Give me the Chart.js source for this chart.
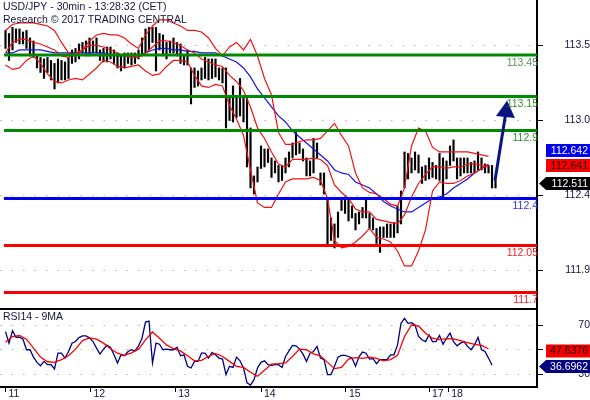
<!DOCTYPE html>
<html>
<head>
<meta charset="utf-8">
<title>USD/JPY</title>
<script src="https://cdn.jsdelivr.net/npm/chart.js"></script>
<style>
  body { margin: 0; background: #fff; }
  canvas { position: absolute; left: 0; }
  #priceChart { top: 0; }
  #rsiChart { top: 305px; }
</style>
</head>
<body>
<canvas id="priceChart" width="590" height="309"></canvas>
<canvas id="rsiChart" width="590" height="95"></canvas>
<script>
// x axis is in half hour bars, bars are read every 2nd, bands every 4th
const titleLines = ["USD/JPY - 30min - 13:28:32 (CET)", "Research © 2017 TRADING CENTRAL"];
const rsiTitle = "RSI14 - 9MA";

const dayTicks = [0, 48.5, 97, 146, 194.5, 242, 253];
const dayLabels = ["11", "12", "13", "14", "15", "17", "18"];

const priceTicks = [113.5, 113, 112.5, 112];
const priceTickLabels = ["113.5", "113.0", "112.4", "111.9"];
const rsiTicks = [70, 50, 30];
const rsiTickLabels = ["70", "", "30"];

const highs = [113.6,113.58,113.62,113.61,113.61,113.59,113.6,113.55,113.53,113.43,113.42,113.41,113.42,113.4,113.38,113.41,113.4,113.39,113.42,113.47,
  113.48,113.51,113.52,113.53,113.55,113.53,113.55,113.47,113.48,113.49,113.49,113.47,113.45,113.43,113.45,113.45,113.45,113.45,113.47,113.55,
  113.61,113.62,113.62,113.62,113.58,113.57,113.52,113.53,113.55,113.52,113.51,113.43,113.47,113.35,113.35,113.33,113.35,113.42,113.41,113.41,
  113.41,113.35,113.35,113.35,113.15,113.23,113.15,113.28,113.15,113.15,112.95,112.63,112.69,112.83,112.81,112.81,112.75,112.73,112.7,112.7,
  112.75,112.79,112.85,112.92,112.85,112.81,112.75,112.73,112.88,112.85,112.65,112.65,112.48,112.35,112.31,112.39,112.48,112.49,112.48,112.43,
  112.38,112.39,112.42,112.48,112.38,112.35,112.28,112.29,112.29,112.31,112.31,112.32,112.43,112.53,112.79,112.78,112.75,112.79,112.77,112.69,
  112.7,112.75,112.72,112.7,112.78,112.75,112.73,112.83,112.87,112.75,112.75,112.75,112.75,112.72,112.73,112.79,112.75,112.71,112.7,112.7,112.6];
const lows = [113.48,113.4,113.47,113.52,113.51,113.51,113.48,113.43,113.42,113.35,113.32,113.28,113.32,113.27,113.21,113.25,113.27,113.27,113.28,113.38,
  113.39,113.41,113.45,113.43,113.43,113.45,113.45,113.4,113.39,113.39,113.41,113.38,113.35,113.33,113.35,113.38,113.37,113.38,113.41,113.43,
  113.45,113.47,113.52,113.33,113.47,113.43,113.41,113.45,113.45,113.43,113.38,113.37,113.37,113.11,113.22,113.23,113.27,113.28,113.27,113.28,
  113.29,113.27,113.25,112.95,113,112.99,113.02,113.03,112.99,112.69,112.55,112.51,112.59,112.68,112.69,112.72,112.62,112.65,112.59,112.6,
  112.65,112.69,112.75,112.77,112.78,112.73,112.63,112.63,112.65,112.75,112.57,112.51,112.17,112.2,112.15,112.22,112.4,112.38,112.33,112.35,
  112.27,112.31,112.35,112.35,112.28,112.27,112.18,112.12,112.22,112.22,112.22,112.22,112.25,112.31,112.55,112.61,112.65,112.67,112.65,112.58,
  112.6,112.61,112.62,112.61,112.6,112.48,112.61,112.7,112.73,112.61,112.63,112.65,112.65,112.65,112.65,112.67,112.67,112.65,112.65,112.55,112.55];

const upperBand = [113.6,113.64,113.65,113.65,113.65,113.64,113.63,113.6,113.52,113.45,113.43,113.47,113.53,113.57,113.58,113.57,113.57,113.55,113.51,113.48,
  113.57,113.63,113.67,113.67,113.65,113.63,113.6,113.6,113.59,113.55,113.48,113.43,113.49,113.52,113.47,113.54,113.43,113.28,113.17,112.92,
  112.84,112.84,112.86,112.87,112.87,112.88,112.93,112.98,112.9,112.83,112.65,112.55,112.52,112.51,112.48,112.44,112.43,112.55,112.83,112.95,
  112.93,112.82,112.79,112.79,112.79,112.79,112.79,112.78,112.77,112.76];
const midBand = [113.45,113.52,113.54,113.54,113.52,113.51,113.49,113.47,113.43,113.42,113.45,113.47,113.5,113.5,113.49,113.47,113.45,113.43,113.42,113.42,
  113.45,113.49,113.53,113.53,113.52,113.5,113.47,113.45,113.41,113.39,113.37,113.36,113.3,113.26,113.2,113.09,112.95,112.88,112.79,112.71,
  112.69,112.74,112.74,112.74,112.75,112.74,112.7,112.57,112.52,112.48,112.41,112.39,112.39,112.34,112.33,112.32,112.31,112.37,112.49,112.58,
  112.64,112.69,112.69,112.68,112.69,112.69,112.71,112.71,112.7,112.69];
const lowerBand = [113.37,113.34,113.35,113.4,113.43,113.38,113.31,113.26,113.25,113.27,113.28,113.27,113.31,113.35,113.4,113.39,113.36,113.35,113.36,113.37,
  113.33,113.3,113.31,113.36,113.4,113.4,113.39,113.3,113.23,113.22,113.24,113.23,113.1,113.01,112.9,112.67,112.45,112.42,112.42,112.51,
  112.59,112.61,112.61,112.61,112.62,112.6,112.48,112.2,112.15,112.16,112.19,112.23,112.28,112.22,112.21,112.19,112.13,112.03,112.03,112.13,
  112.27,112.53,112.59,112.58,112.58,112.6,112.63,112.65,112.68,112.71];
const slowAverage = [113.45,113.45,113.47,113.47,113.47,113.47,113.46,113.45,113.45,113.45,113.45,113.45,113.45,113.45,113.45,113.44,113.43,113.43,113.43,113.43,
  113.45,113.47,113.48,113.48,113.47,113.47,113.46,113.46,113.45,113.45,113.45,113.43,113.41,113.39,113.35,113.29,113.21,113.15,113.09,113.03,
  112.99,112.93,112.89,112.85,112.81,112.77,112.73,112.67,112.65,112.64,112.59,112.57,112.55,112.51,112.46,112.43,112.41,112.39,112.39,112.42,
  112.45,112.48,112.49,112.51,112.55,112.58,112.61,112.65,112.68,112.7];

// horizontal levels: where the line sits and what it is labelled
const levelValues = [113.437, 113.16, 112.933, 112.48, 112.167, 111.853];
const levelLabels = ["113.45", "113.15", "112.9", "112.4", "112.05", "111.7"];
const levelColors = ["#008a00", "#008a00", "#008a00", "#0000f0", "#f80000", "#f80000"];
const levelTextColors = ["#5f8f5f", "#2f8f2f", "#2f8f2f", "#3030f0", "#f02020", "#f02020"];
const levelStart = -0.9;
const levelEnd = 303.7;

const arrowBars = [279.7, 286];
const arrowPrices = [112.6, 113.06];

const priceTagValues = [112.8, 112.7, 112.58];
const priceTagTexts = ["112.642", "112.641", "112.511"];
const rsiTagValues = [48.8, 36.1];
const rsiTagTexts = ["47.6376", "36.6962"];

const rsiLine = [64.6,55.2,65.4,60,60,58.4,49.8,49.8,43.8,39.5,36.8,40.3,37.6,37.6,34.1,47,47,43,48.4,55.2,
  56.5,59.7,61.1,61.1,59.5,56.5,51.1,46.2,50.3,53.5,51.6,45.7,39,45.7,44.9,48.4,49.8,48.9,53,59.2,
  72.4,73.2,39,55.2,54.3,49.8,50.3,49.8,49.8,51.9,44.9,45.7,36.3,34.9,40.3,40.3,47,47,43,47.6,
  45.7,43,42.2,29.5,36.3,35.4,43.8,40.8,34.9,22.8,20.9,25.4,34.9,39.5,40.8,37.6,37.1,37.6,37.6,35.4,
  44.3,48.9,53.3,53,50.3,46.2,40.3,47,48.4,52.5,43,41.7,29.5,29.5,36.3,43.8,45.2,45.2,44.3,43,
  36.3,44.3,47.9,47,42.2,42.5,38.4,41.7,41.7,41.7,45.7,45.7,53.8,71.4,75.4,71.4,71.9,70,60.6,57.9,
  56.5,61.9,56.5,56.5,61.4,54.3,59.2,63.3,56.5,53,55.2,56.5,52.5,49.8,53.8,60,49.8,48.4,43,37.1];
const rsiAverage = [56,60.6,61.4,58.4,51.1,43.8,40,39.5,41.7,44.9,50.3,57.3,59.5,58.4,55.2,50.6,47,45.2,47.3,50.3,
  57.9,64.3,59.2,53.8,50.6,48.9,44.9,40.8,41.1,44.3,46.8,44.3,40.3,36.3,35.4,31.4,28.2,33,38.1,38.4,
  39,44.3,50.3,49.8,46.5,44.9,39.5,34.4,35.4,42.2,43.3,42.7,43.8,42.7,40.8,41.7,45.2,60.6,70,69.2,
  63.3,59.2,58.1,58.9,58.7,57.3,55.7,54.1,53.3,50.6];

const fontFamily = "'Liberation Sans', Arial, sans-serif";
const textFont = "10.5px " + fontFamily;
const textColor = "#14143c";

function series(values, step) {
  return values.map((v, i) => ({ x: i * step, y: v }));
}

function lineSet(data, color, width, order) {
  return { type: "line", data, borderColor: color, borderWidth: width, pointRadius: 0, tension: 0, order };
}

function dayScale() {
  return { type: "linear", min: -3.14, max: 303.7, offset: false };
}

// colored boxes on the right of the axis, the ones with a tip point at the axis
function drawTag(ctx, y, text, fill, color, tip) {
  ctx.fillStyle = fill;
  ctx.beginPath();
  ctx.moveTo(546, y - 6.5);
  ctx.lineTo(590, y - 6.5);
  ctx.lineTo(590, y + 6.5);
  ctx.lineTo(546, y + 6.5);
  if (tip) ctx.lineTo(539, y);
  ctx.closePath();
  ctx.fill();
  ctx.fillStyle = color;
  ctx.font = textFont;
  ctx.textAlign = "right";
  ctx.textBaseline = "middle";
  ctx.fillText(text, 588, y + 0.5);
}

const priceOverlay = {
  id: "priceOverlay",
  afterDraw(chart) {
    const { ctx, scales } = chart;
    ctx.save();
    ctx.font = textFont;
    ctx.textBaseline = "middle";
    ctx.textAlign = "left";
    ctx.fillStyle = textColor;
    titleLines.forEach((t, i) => ctx.fillText(t, 3, 7 + i * 13));
    ctx.textAlign = "right";
    levelLabels.forEach((t, i) => {
      ctx.fillStyle = levelTextColors[i];
      ctx.fillText(t, 538, scales.y.getPixelForValue(levelValues[i]) + 8);
    });
    const tagFills = ["#0000f0", "#f80000", "#000000"];
    const tagColors = ["#ffffff", "#200000", "#ffffff"];
    priceTagTexts.forEach((t, i) => {
      drawTag(ctx, scales.y.getPixelForValue(priceTagValues[i]), t, tagFills[i], tagColors[i], i === 2);
    });
    ctx.restore();
  }
};

const rsiOverlay = {
  id: "rsiOverlay",
  afterDraw(chart) {
    const { ctx, scales, chartArea } = chart;
    ctx.save();
    ctx.strokeStyle = "#000";
    ctx.lineWidth = 2;
    ctx.beginPath();
    ctx.moveTo(0, chartArea.top);
    ctx.lineTo(chartArea.right, chartArea.top);
    ctx.stroke();
    ctx.font = textFont;
    ctx.textAlign = "left";
    ctx.textBaseline = "middle";
    ctx.fillStyle = textColor;
    ctx.fillText(rsiTitle, 3, 12);
    drawTag(ctx, scales.y.getPixelForValue(rsiTagValues[0]), rsiTagTexts[0], "#f80000", "#200000", false);
    drawTag(ctx, scales.y.getPixelForValue(rsiTagValues[1]), rsiTagTexts[1], "#000080", "#ffffff", true);
    ctx.restore();
  }
};

function valueScale(min, max, ticks, labels, padding) {
  return {
    position: "right",
    min,
    max,
    afterFit(scale) {
      scale.width = 53;
      // the big tick padding only moves the labels sideways
      scale.paddingTop = 0;
      scale.paddingBottom = 0;
    },
    afterBuildTicks(scale) { scale.ticks = ticks.map(v => ({ value: v })); },
    border: { display: true, color: "#000", width: 2, dash: [1.5, 10] },
    grid: { color: "#b4b4b4", lineWidth: 1, tickLength: 6, tickColor: "#000", tickBorderDash: [0, 0], tickWidth: 1 },
    ticks: {
      color: textColor,
      font: { family: fontFamily, size: 10.5 },
      padding,
      crossAlign: "far",
      autoSkip: false,
      callback: (v, i) => labels[i]
    }
  };
}

const priceSets = [
  lineSet(arrowPrices.map((p, i) => ({ x: arrowBars[i], y: p })), "#0a1480", 3, 0),
  ...levelValues.map((v, i) => lineSet([{ x: levelStart, y: v }, { x: levelEnd, y: v }], levelColors[i], 3, 1)),
  lineSet(series(upperBand, 4), "#f01414", 1.2, 2),
  lineSet(series(midBand, 4), "#f01414", 1.2, 2),
  lineSet(series(lowerBand, 4), "#f01414", 1.2, 2),
  lineSet(series(slowAverage, 4), "#1414e0", 1.2, 2),
  {
    type: "bar",
    data: highs.map((h, i) => ({ x: i * 2, y: [lows[i], h] })),
    backgroundColor: "#000",
    barThickness: 1.5,
    order: 3
  }
];
// arrow head on the end of the arrow line
priceSets[0].pointStyle = "triangle";
priceSets[0].pointRadius = [0, 8];
priceSets[0].pointRotation = 6;
priceSets[0].pointBackgroundColor = "#0a1480";
priceSets[0].pointBorderColor = "#0a1480";

new Chart(document.getElementById("priceChart"), {
  type: "line",
  data: { datasets: priceSets },
  plugins: [priceOverlay],
  options: {
    responsive: false,
    animation: false,
    layout: { padding: 0, autoPadding: false },
    plugins: { legend: { display: false }, tooltip: { enabled: false } },
    scales: {
      x: { ...dayScale(), display: false },
      y: valueScale(111.743, 113.803, priceTicks, priceTickLabels, 18)
    }
  }
});

new Chart(document.getElementById("rsiChart"), {
  type: "line",
  data: {
    datasets: [
      lineSet(series(rsiAverage, 4), "#f80000", 1.3, 1),
      lineSet(series(rsiLine, 2), "#000080", 1.3, 2)
    ]
  },
  plugins: [rsiOverlay],
  options: {
    responsive: false,
    animation: false,
    layout: { padding: { top: 4 }, autoPadding: false },
    plugins: { legend: { display: false }, tooltip: { enabled: false } },
    scales: {
      x: {
        ...dayScale(),
        afterFit(scale) { scale.height = 13; },
        afterBuildTicks(scale) { scale.ticks = dayTicks.map(v => ({ value: v })); },
        border: { display: true, color: "#000", width: 2 },
        grid: { drawOnChartArea: false, tickLength: 5, tickColor: "#000" },
        ticks: {
          color: textColor,
          font: { family: fontFamily, size: 10.5 },
          align: "start",
          labelOffset: 3,
          padding: -4,
          maxRotation: 0,
          autoSkip: false,
          callback: (v, i) => dayLabels[i]
        }
      },
      y: valueScale(19.4, 83.06, rsiTicks, rsiTickLabels, 32)
    }
  }
});
</script>
</body>
</html>
